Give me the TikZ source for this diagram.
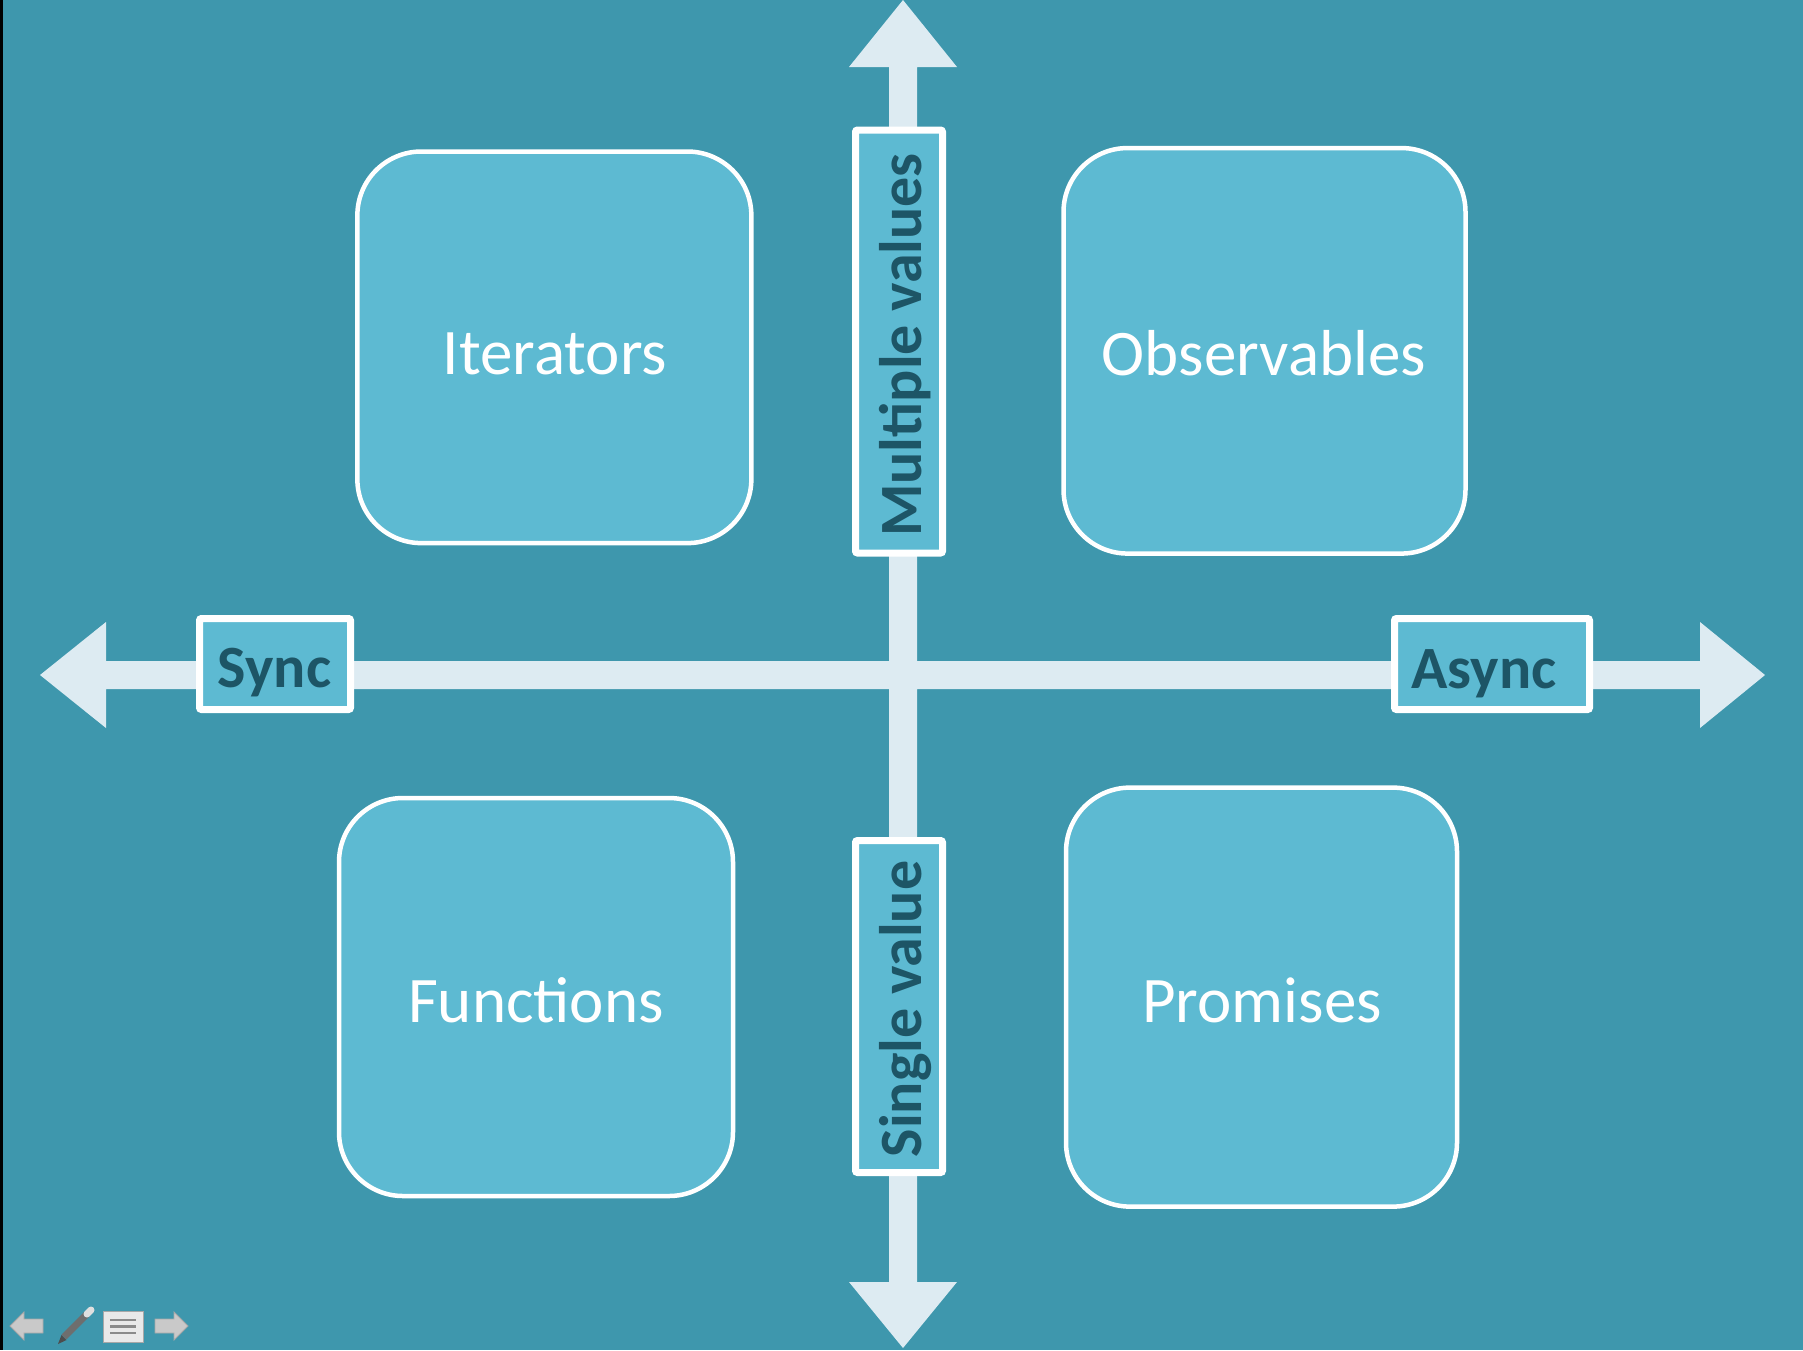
\documentclass[tikz,border=0pt]{standalone}
\usepackage{fontspec}
\setmainfont{Carlito}
\usetikzlibrary{shadows}
\definecolor{bg}{HTML}{3E97AD}
\definecolor{boxfill}{HTML}{5DBAD2}
\definecolor{axis}{HTML}{DDEBF2}
\definecolor{lbl}{HTML}{1D5566}
\definecolor{icon}{HTML}{C9C9C9}
\definecolor{icondark}{HTML}{6E6E6E}
\begin{document}
\begin{tikzpicture}[x=1pt,y=-1pt,
  bigbox/.style={draw=white, line width=4.5pt, fill=boxfill, rounded corners=64pt,
    inner sep=0pt, outer sep=0pt},
  lblbox/.style={draw=white, line width=7pt, fill=boxfill, rounded corners=2pt,
    inner sep=0pt, outer sep=0pt,
    drop shadow={shadow xshift=1.5pt, shadow yshift=-2.5pt, opacity=0.35, fill=black}},
  bigtext/.style={text=white, inner sep=0pt, font=\fontsize{65}{70}\selectfont},
  lbltext/.style={text=lbl, inner sep=0pt, font=\fontsize{60}{66}\selectfont\bfseries},
]
\useasboundingbox (0,0) rectangle (1803,1350);
\fill[bg] (0,0) rectangle (1803,1350);
\fill[black] (0,0) rectangle (3,1350);

% axes with four arrow heads
\fill[axis] (40,675) -- (106,622) -- (106,661) -- (889,661) -- (889,67) -- (849,67)
  -- (903,0) -- (957,67) -- (917,67) -- (917,661) -- (1700,661) -- (1700,622)
  -- (1765,675) -- (1700,728) -- (1700,689) -- (917,689) -- (917,1282) -- (957,1282)
  -- (903,1348) -- (849,1282) -- (889,1282) -- (889,689) -- (106,689) -- (106,728) -- cycle;

% quadrant boxes
\node[bigbox, minimum width=394pt, minimum height=391.6pt] (iter) at (554.35,347.3) {};
\node[bigbox, minimum width=402pt, minimum height=405.5pt] (obs) at (1264.5,350.8) {};
\node[bigbox, minimum width=394pt, minimum height=398pt] (func) at (536,997) {};
\node[bigbox, minimum width=391pt, minimum height=419pt] (prom) at (1261.5,997.1) {};

\node[bigtext, anchor=base] (titer) at (555,374) {Iterators};
\node[bigtext, anchor=base] (tobs) at (1264,375) {Observables};
\node[bigtext, anchor=base] (tfunc) at (536,1022) {Functions};
\node[bigtext, anchor=base] (tprom) at (1262,1022) {Promises};

% axis label boxes
\node[lblbox, minimum width=87pt, minimum height=423pt] (mult) at (899,341.5) {};
\node[lblbox, minimum width=87pt, minimum height=332pt] (single) at (899,1006.5) {};
\node[lblbox, minimum width=151pt, minimum height=91pt] (sync) at (275,664) {};
\node[lblbox, minimum width=195pt, minimum height=91pt] (async) at (1492,664) {};

\node[lbltext, anchor=base, rotate=90] (tmult) at (921,345) {Multiple values};
\node[lbltext, anchor=base, rotate=90] (tsingle) at (921,1009) {Single value};
\node[lbltext, anchor=base] (tsync) at (274.5,687) {Sync};
\node[lbltext, anchor=base] (tasync) at (1484,688) {Async};

% slide navigation icons
\fill[icon, draw=icondark!60, line width=0.8pt] (10,1326) -- (24,1312) -- (24,1319) -- (43,1319)
  -- (43,1333) -- (24,1333) -- (24,1340) -- cycle;
\fill[icon, draw=icondark!60, line width=0.8pt] (188,1326) -- (174,1312) -- (174,1319) -- (155,1319)
  -- (155,1333) -- (174,1333) -- (174,1340) -- cycle;
\draw[icondark, line width=7pt] (64,1337) -- (87,1314);
\draw[icon!60!white, line width=7pt, line cap=round] (87,1314) -- (91,1310);
\fill[icondark!70!black] (58,1344) -- (61.5,1335) -- (66.5,1340) -- cycle;
\draw[icondark!60, fill=icon!40!white, line width=1pt] (103,1311) rectangle (143,1342);
\draw[icondark!80, line width=2.5pt] (110,1320) -- (136,1320) (110,1326.5) -- (136,1326.5) (110,1333) -- (136,1333);
\end{tikzpicture}
\end{document}
